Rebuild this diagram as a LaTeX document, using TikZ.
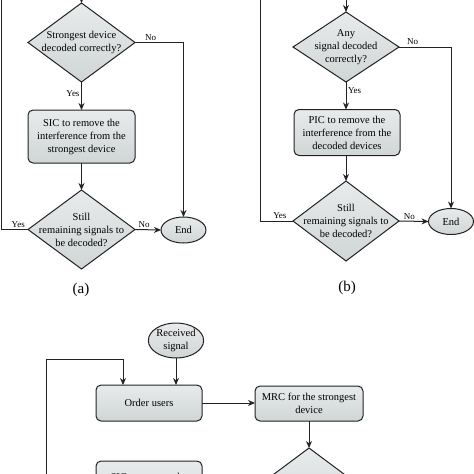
\documentclass[tikz,border=0pt]{standalone}
\usepackage{fontspec}
\setmainfont{Liberation Serif}
\usetikzlibrary{shapes.geometric,arrows.meta}
\definecolor{ln}{HTML}{222222}
\definecolor{fillA}{HTML}{E8EBEC}
\definecolor{fillB}{HTML}{D0D5D6}
\tikzset{
 base/.style={draw=ln, line width=1pt, top color=fillA, bottom color=fillB, outer sep=0pt,
   text=black, font=\fontsize{10.5}{13}\selectfont, align=center, inner sep=0pt},
 procbox/.style={base, rectangle, rounded corners=5pt},
 decision/.style={base, diamond},
 terminal/.style={base, ellipse},
 dtext/.style={font=\fontsize{10.5}{13}\selectfont, align=center, text=black, inner sep=0pt},
 conn/.style={draw=ln, line width=1pt},
 arr/.style={conn, -{Stealth[length=7pt,width=6pt]}},
 lab/.style={font=\fontsize{9}{10}\selectfont, inner sep=1.5pt, text=black},
 captxt/.style={font=\fontsize{15}{18}\selectfont, text=black}
}
\begin{document}
\begin{tikzpicture}[x=1pt,y=-1pt]
\useasboundingbox (0,0) rectangle (474,474);
\clip (0,0) rectangle (474,474);

% ---------- (a) ----------
\node[decision, minimum width=107pt, minimum height=79pt,
  label={[dtext]center:{Strongest device\\decoded correctly?}}] (a1) at (81.5,42.5) {};
\node[procbox, minimum width=107pt, minimum height=53pt] (a2) at (81.5,136.5)
  {SIC to remove the\\interference from the\\strongest device};
\node[decision, minimum width=107pt, minimum height=79pt,
  label={[dtext]center:{Still\\remaining signals to\\be decoded?}}] (a3) at (81.5,229.5) {};
\node[terminal, minimum width=45pt, minimum height=26pt] (aend) at (183.5,230) {End};
\node[captxt] (acap) at (81,290) {(a)};
\coordinate (atop) at (81.5,-12);
\coordinate (aloop) at (1,-12);

\draw[arr] (atop) -- (a1.north);
\draw[arr] (a1.south) -- node[lab, left, pos=0.4]{Yes} (a2.north);
\draw[arr] (a2.south) -- (a3.north);
\draw[arr] (a1.east) -| node[lab, above, pos=0.16]{No} (aend.north);
\draw[arr] (a3.east) -- node[lab, above, pos=0.35]{No} (aend.west);
\draw[conn] (a3.west) -| node[lab, above, pos=0.18]{Yes} (aloop);

% ---------- (b) ----------
\node[decision, minimum width=106pt, minimum height=70pt,
  label={[dtext]center:{Any\\signal decoded\\correctly?}}] (b1) at (346,47) {};
\node[procbox, minimum width=106pt, minimum height=46pt] (b2) at (347,132.5)
  {PIC to remove the\\interference from the\\decoded devices};
\node[decision, minimum width=106pt, minimum height=80pt,
  label={[dtext]center:{Still\\remaining signals to\\be decoded?}}] (b3) at (346,221) {};
\node[terminal, minimum width=45pt, minimum height=26pt] (bend) at (451,221.5) {End};
\node[captxt] (bcap) at (347,288) {(b)};
\coordinate (btop) at (346,-12);
\coordinate (bloop) at (260,-12);

\draw[arr] (btop) -- (b1.north);
\draw[arr] (b1.south) -- node[lab, right, pos=0.3]{Yes} (b1.south |- b2.north);
\draw[arr] (b2.south -| b3.north) -- (b3.north);
\draw[arr] (b1.east) -| node[lab, above, pos=0.13]{No} (bend.north);
\draw[arr] (b3.east) -- node[lab, above, pos=0.35]{No} (bend.west);
\draw[conn] (b3.west) -| node[lab, above, pos=0.2]{Yes} (bloop);

% ---------- (c) ----------
\node[terminal, minimum width=53pt, minimum height=35pt] (rec) at (176,340.5) {Received\\signal};
\node[procbox, minimum width=106pt, minimum height=36pt] (ord) at (149,403) {Order users};
\node[procbox, minimum width=108pt, minimum height=35pt] (mrc) at (309,403.5)
  {MRC for the strongest\\device};
\node[decision, minimum width=106pt, minimum height=79pt] (c3) at (309,487.5) {};
\node[procbox, minimum width=106pt, minimum height=60pt] (c2) at (149,491)
  {SIC to remove the\\interference from the\\strongest device};
\coordinate (cloop) at (46,520);
\coordinate (cin) at (123,359);

\draw[arr] (rec.south) -- (rec.south |- ord.north);
\draw[arr] (cloop) |- (cin) -- (cin |- ord.north);
\draw[arr] (ord.east) -- (mrc.west |- ord.east);
\draw[arr] (mrc.south) -- (c3.north);
\end{tikzpicture}
\end{document}
